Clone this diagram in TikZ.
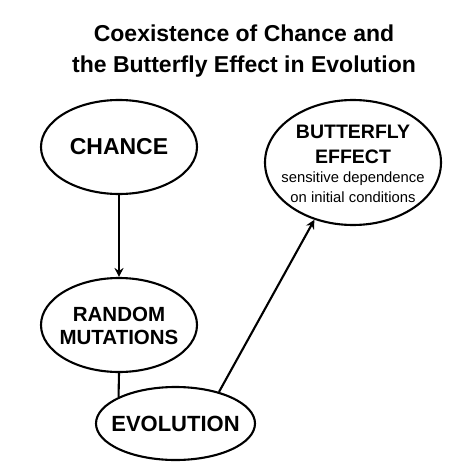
\documentclass[tikz,border=0pt]{standalone}
\usepackage{fontspec}
\setmainfont{Liberation Sans}
\usetikzlibrary{shapes.geometric,arrows.meta}
\tikzset{
  bubble/.style={draw=black, line width=2.1pt, ellipse, inner sep=0pt},
  conn/.style={line width=2.1pt, draw=black},
  arr/.style={conn, -{Stealth[length=9pt,width=9pt,inset=3pt]}},
  lbl/.style={inner sep=0pt, align=center, text=black},
}
\begin{document}
\begin{tikzpicture}[x=1pt,y=-1pt]
\useasboundingbox[fill=white] (0,0) rectangle (476,476);
% title
\node[lbl, anchor=north, font=\fontsize{23}{31}\selectfont\bfseries] (title) at (244,25)
  {Coexistence of Chance and\\the Butterfly Effect in Evolution};
% ellipses
\node[bubble, minimum width=156pt, minimum height=94pt] (chance) at (119,147) {};
\node[bubble, minimum width=156pt, minimum height=94pt] (random) at (119,325) {};
\node[bubble, minimum width=159pt, minimum height=73pt] (evolution) at (175.5,423.5) {};
\node[bubble, minimum width=176pt, minimum height=125pt] (butterfly) at (353,162.5) {};
% texts
\node[lbl, font=\fontsize{23}{27}\selectfont\bfseries] (chancetxt) at (chance) {CHANCE};
\node[lbl, font=\fontsize{20.5}{23}\selectfont\bfseries] (randomtxt) at (119,326) {RANDOM\\MUTATIONS};
\node[lbl, font=\fontsize{22}{26}\selectfont\bfseries] (evotxt) at (evolution) {EVOLUTION};
\node[lbl, anchor=north, font=\fontsize{19.5}{25}\selectfont\bfseries] (bftxt) at (353,125) {BUTTERFLY\\EFFECT};
\node[lbl, anchor=north, font=\fontsize{14.8}{20}\selectfont] (bfsub) at (353,171.2) {sensitive dependence\\on initial conditions};
% connectors
\draw[arr] (chance) -- (random);
\draw[conn] (random.south) -- (evolution.155.5);
\draw[arr] (evolution.36.5) -- (butterfly.236.5);
\end{tikzpicture}
\end{document}
